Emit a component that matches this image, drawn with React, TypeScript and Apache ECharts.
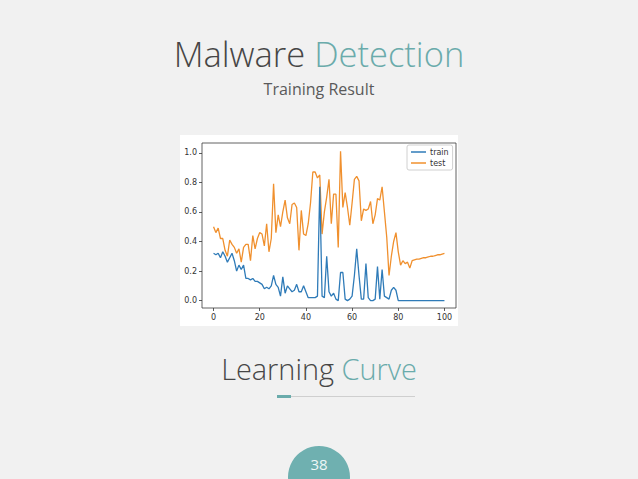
import React, { useEffect, useRef } from "react";
import * as echarts from "echarts";

const xTicks = [0, 20, 40, 60, 80, 100];
const yTicks = [0.0, 0.2, 0.4, 0.6, 0.8, 1.0];

const train = [
  0.32, 0.31, 0.32, 0.29, 0.33, 0.30, 0.26, 0.29, 0.32, 0.27,
  0.20, 0.24, 0.21, 0.24, 0.15, 0.15, 0.14, 0.15, 0.13, 0.13,
  0.12, 0.11, 0.08, 0.09, 0.08, 0.10, 0.17, 0.11, 0.09, 0.03,
  0.16, 0.05, 0.10, 0.08, 0.06, 0.07, 0.11, 0.06, 0.06, 0.10,
  0.06, 0.02, 0.02, 0.02, 0.02, 0.03, 0.77, 0.03, 0.02, 0.30,
  0.06, 0.03, 0.05, 0.01, 0.00, 0.19, 0.19, 0.01, 0.00, 0.01,
  0.03, 0.17, 0.35, 0.17, 0.01, 0.01, 0.25, 0.02, 0.00, 0.00,
  0.01, 0.23, 0.01, 0.21, 0.03, 0.02, 0.01, 0.07, 0.09, 0.07,
  0.00, 0.00, 0.00, 0.00, 0.00, 0.00, 0.00, 0.00, 0.00, 0.00,
  0.00, 0.00, 0.00, 0.00, 0.00, 0.00, 0.00, 0.00, 0.00, 0.00,
  0.00,
];

const test = [
  0.50, 0.46, 0.49, 0.42, 0.42, 0.34, 0.30, 0.41, 0.38, 0.36,
  0.32, 0.35, 0.26, 0.36, 0.38, 0.38, 0.27, 0.44, 0.35, 0.42,
  0.46, 0.45, 0.37, 0.52, 0.33, 0.42, 0.79, 0.46, 0.58, 0.50,
  0.60, 0.68, 0.56, 0.52, 0.65, 0.66, 0.63, 0.34, 0.61, 0.45,
  0.44, 0.52, 0.66, 0.87, 0.87, 0.83, 0.85, 0.45, 0.60, 0.70,
  0.82, 0.52, 0.72, 0.72, 0.36, 1.01, 0.63, 0.73, 0.63, 0.51,
  0.66, 0.82, 0.84, 0.81, 0.54, 0.62, 0.61, 0.62, 0.67, 0.52,
  0.58, 0.69, 0.68, 0.77, 0.60, 0.43, 0.17, 0.30, 0.40, 0.46,
  0.33, 0.24, 0.27, 0.25, 0.26, 0.22, 0.27, 0.275, 0.28, 0.28,
  0.285, 0.29, 0.29, 0.295, 0.30, 0.30, 0.305, 0.31, 0.31, 0.315,
  0.32,
];

const TEAL = "#6aabab";

export default function App() {
  const ref = useRef<HTMLDivElement>(null);

  useEffect(() => {
    document.body.style.margin = "0";
    const chart = echarts.init(ref.current!, undefined, { renderer: "svg" });
    const tickFont = "DejaVu Sans";
    chart.setOption({
      animation: false,
      backgroundColor: "#f1f1f1",
      graphic: [
        {
          type: "rect",
          z: -1,
          shape: { x: 180, y: 135, width: 278, height: 191 },
          style: { fill: "#ffffff" },
        },
        {
          type: "text",
          x: 319,
          y: 53,
          style: {
            text: "{a|Malware} {b|Detection}",
            textAlign: "center",
            textVerticalAlign: "middle",
            rich: {
              a: { fontFamily: "Open Sans", fontWeight: 300, fontSize: 34.5, fill: "#464646", color: "#464646" },
              b: { fontFamily: "Open Sans", fontWeight: 300, fontSize: 34.5, fill: TEAL, color: TEAL },
            },
            fontFamily: "Open Sans",
            fontWeight: 300,
            fontSize: 34.5,
          },
        },
        {
          type: "text",
          x: 319,
          y: 89,
          style: {
            text: "Training Result",
            textAlign: "center",
            textVerticalAlign: "middle",
            fontFamily: "Open Sans",
            fontSize: 16,
            fill: "#5a5a5a",
          },
        },
        {
          type: "text",
          x: 319,
          y: 368,
          style: {
            text: "{a|Learning} {b|Curve}",
            textAlign: "center",
            textVerticalAlign: "middle",
            rich: {
              a: { fontFamily: "Open Sans", fontWeight: 300, fontSize: 28.9, fill: "#464646", color: "#464646" },
              b: { fontFamily: "Open Sans", fontWeight: 300, fontSize: 28.9, fill: TEAL, color: TEAL },
            },
            fontFamily: "Open Sans",
            fontWeight: 300,
            fontSize: 28.9,
          },
        },
        {
          type: "line",
          shape: { x1: 291, y1: 396.5, x2: 415, y2: 396.5 },
          style: { stroke: "#cfcfcf", lineWidth: 1 },
        },
        {
          type: "rect",
          shape: { x: 277, y: 395, width: 14, height: 3 },
          style: { fill: TEAL },
        },
        {
          type: "circle",
          shape: { cx: 319, cy: 477, r: 31 },
          style: { fill: "#6fb0b0" },
        },
        {
          type: "text",
          x: 319,
          y: 464,
          style: {
            text: "38",
            textAlign: "center",
            textVerticalAlign: "middle",
            fontFamily: "Open Sans",
            fontSize: 15,
            fill: "#eef7f7",
          },
        },
      ],
      grid: {
        left: 202,
        top: 143,
        width: 254,
        height: 165,
        show: true,
        backgroundColor: "#ffffff",
        borderColor: "#3a3a3a",
        borderWidth: 0.8,
      },
      legend: {
        data: ["train", "test"],
        orient: "vertical",
        left: 407,
        top: 145,
        backgroundColor: "rgba(255,255,255,0.9)",
        borderColor: "#d0d0d0",
        borderWidth: 1,
        borderRadius: 2,
        padding: [3, 4, 3, 4],
        itemGap: 3,
        itemWidth: 15,
        itemHeight: 1.5,
        icon: "rect",
        textStyle: { fontFamily: tickFont, fontSize: 8, color: "#333", padding: [0, 0, 0, -1] },
      },
      xAxis: {
        type: "value",
        min: -5,
        max: 105,
        axisLine: { show: false, onZero: false },
        splitLine: { show: false },
        axisTick: { show: true, length: 3, customValues: xTicks, lineStyle: { color: "#333", width: 0.8 } },
        axisLabel: {
          customValues: xTicks,
          fontFamily: tickFont,
          fontSize: 8,
          color: "#333",
          margin: 5,
          formatter: (v: number) => String(v),
        },
      },
      yAxis: {
        type: "value",
        min: -0.05,
        max: 1.066,
        axisLine: { show: false, onZero: false },
        splitLine: { show: false },
        axisTick: { show: true, length: 3, customValues: yTicks, lineStyle: { color: "#333", width: 0.8 } },
        axisLabel: {
          customValues: yTicks,
          fontFamily: tickFont,
          fontSize: 8,
          color: "#333",
          margin: 5,
          formatter: (v: number) => v.toFixed(1),
        },
      },
      series: [
        {
          name: "train",
          type: "line",
          data: train.map((v, i) => [i, v]),
          symbol: "none",
          lineStyle: { color: "#2f7bb8", width: 1.3 },
          itemStyle: { color: "#2f7bb8" },
          z: 3,
        },
        {
          name: "test",
          type: "line",
          data: test.map((v, i) => [i, v]),
          symbol: "none",
          lineStyle: { color: "#f0902e", width: 1.3 },
          itemStyle: { color: "#f0902e" },
          z: 2,
        },
      ],
    });
    return () => chart.dispose();
  }, []);

  return (
    <div
      ref={ref}
      style={{ position: "absolute", left: 0, top: 0, width: 638, height: 479 }}
    />
  );
}
